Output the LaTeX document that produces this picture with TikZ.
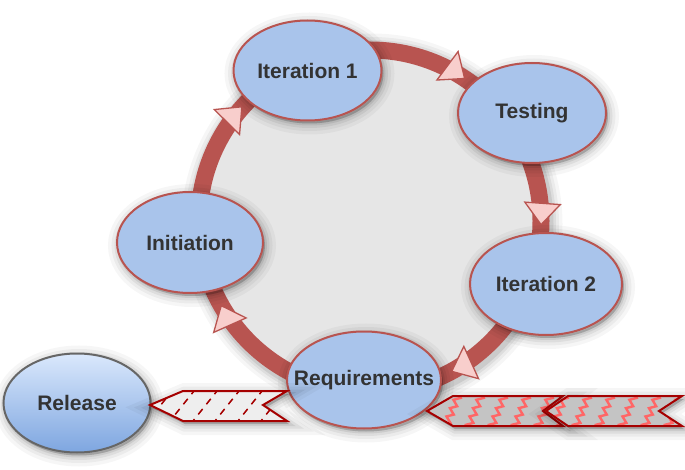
\documentclass[tikz,border=0pt]{standalone}
\usepackage{fontspec}
\setmainfont{Liberation Sans}
\usetikzlibrary{shapes.geometric, arrows.meta, backgrounds, decorations.pathmorphing}
\definecolor{ringred}{HTML}{B85450}
\definecolor{nodeblue}{HTML}{A9C4EB}
\definecolor{arrowpink}{HTML}{F8CECC}
\definecolor{discgrey}{HTML}{E6E6E6}
\definecolor{txt}{HTML}{333333}
\definecolor{chevred}{HTML}{A50000}
\definecolor{zigred}{HTML}{FF6666}
\definecolor{chevgrey}{HTML}{C4C4C4}
\definecolor{hatchfill}{HTML}{EEEEEE}
\definecolor{relborder}{HTML}{666666}
\definecolor{reltop}{HTML}{DAE8FC}
\definecolor{relbot}{HTML}{7EA6E0}
\tikzset{
  softshadow/.style={
    preaction={draw=black, fill=black, opacity=0.035, line width=22pt, transform canvas={xshift=2pt, yshift=-3pt}},
    preaction={draw=black, fill=black, opacity=0.045, line width=15pt, transform canvas={xshift=2pt, yshift=-3pt}},
    preaction={draw=black, fill=black, opacity=0.06, line width=9pt, transform canvas={xshift=2pt, yshift=-3pt}},
    preaction={draw=black, fill=black, opacity=0.08, line width=4pt, transform canvas={xshift=2pt, yshift=-3pt}}},
  discshadow/.style={
    preaction={draw=black, fill=black, opacity=0.035, line width=39pt, transform canvas={xshift=2pt, yshift=-3pt}},
    preaction={draw=black, fill=black, opacity=0.045, line width=32pt, transform canvas={xshift=2pt, yshift=-3pt}},
    preaction={draw=black, fill=black, opacity=0.06, line width=26pt, transform canvas={xshift=2pt, yshift=-3pt}},
    preaction={draw=black, fill=black, opacity=0.08, line width=21pt, transform canvas={xshift=2pt, yshift=-3pt}}},
  phase/.style={ellipse, draw=ringred, line width=2pt, fill=nodeblue, inner sep=0pt,
    minimum width=148pt, minimum height=100pt, font=\fontsize{21}{25}\selectfont\bfseries,
    text=txt, softshadow},
  release/.style={ellipse, draw=relborder, line width=2pt, top color=reltop, bottom color=relbot,
    inner sep=0pt, minimum width=147pt, minimum height=99pt,
    font=\fontsize{21}{25}\selectfont\bfseries, text=txt, softshadow},
  ringdisc/.style={circle, draw=ringred, line width=17pt, fill=discgrey, inner sep=0pt,
    minimum size=342pt, discshadow},
  flow/.style={draw=ringred, line width=1pt, looseness=0.86,
    -{Triangle[length=23pt, width=38pt, fill=arrowpink, line width=1.3pt]}},
  hatchchev/.style={draw=chevred, line width=2pt, fill=hatchfill, line join=miter, softshadow},
  zigchev/.style={draw=chevred, line width=2pt, fill=chevgrey, line join=miter, softshadow},
  hatchline/.style={draw=chevred, line width=1.5pt, dash pattern=on 7pt off 6pt, dash phase=3pt},
  zigline/.style={draw=zigred, line width=2.4pt, decorate,
    decoration={zigzag, segment length=9pt, amplitude=3pt}},
}
\begin{document}
\begin{tikzpicture}[x=1pt, y=1pt]
\useasboundingbox (0,0) rectangle (685,-470);

% phase nodes
\node[phase] (it1) at (307.5,-70.5) {\makebox[0pt]{Iteration 1}};
\node[phase] (test) at (532,-113) {\makebox[0pt]{Testing}};
\node[phase, minimum width=152pt, minimum height=102pt] (it2) at (546,-284) {\makebox[0pt]{Iteration 2}};
\node[phase, minimum width=154pt, minimum height=97pt] (req) at (364,-380) {\makebox[0pt]{Requirements}};
\node[phase, minimum width=146pt, minimum height=101pt] (init) at (190,-242.5) {\makebox[0pt]{Initiation}};
\node[release] (rel) at (77,-403) {\makebox[0pt]{Release}};

\begin{pgfonlayer}{background}
  \fill[white] (0,0) rectangle (685,-470);
  \node[ringdisc] (disc) at (370,-221) {};
  \draw[flow, shorten >=15pt] (req.173) to[out=151.5, in=-66] (init.-63);
  \draw[flow, shorten >=7pt] (init.77) to[out=80.4, in=225.5] (it1.-153);
  \draw[flow, shorten >=7pt] (it1.17) to[out=-1.9, in=143.4] (test.154);
  \draw[flow, shorten >=6.5pt] (test.-91) to[out=-70.1, in=86] (it2.96);
  \draw[flow, shorten >=10pt] (it2.-134) to[out=-128.3, in=24.5] (req.3);
\end{pgfonlayer}

% hatched chevron (towards Release)
\path[hatchchev, path picture={
    \foreach \x in {172,194,217,239,262,285} {\draw[hatchline] (\x,-391) -- (\x-24,-421);}
  }]
  (150,-405) -- (183,-391) -- (287,-391) -- (263,-405) -- (287,-421) -- (183,-421) -- cycle;

% zigzag chevrons
\path[zigchev, path picture={
    \foreach \x in {422,445,468,491,514,537,560} {\draw[zigline] (\x,-428) -- (\x+14,-394);}
  }]
  (427,-411) -- (453,-396) -- (563,-396) -- (543,-411) -- (563,-426) -- (453,-426) -- cycle;
\path[zigchev, path picture={
    \foreach \x in {552,575,598,621,644,667,690} {\draw[zigline] (\x,-428) -- (\x+14,-394);}
  }]
  (546,-411) -- (568,-396) -- (682,-396) -- (659,-411) -- (682,-426) -- (568,-426) -- cycle;
\end{tikzpicture}
\end{document}
